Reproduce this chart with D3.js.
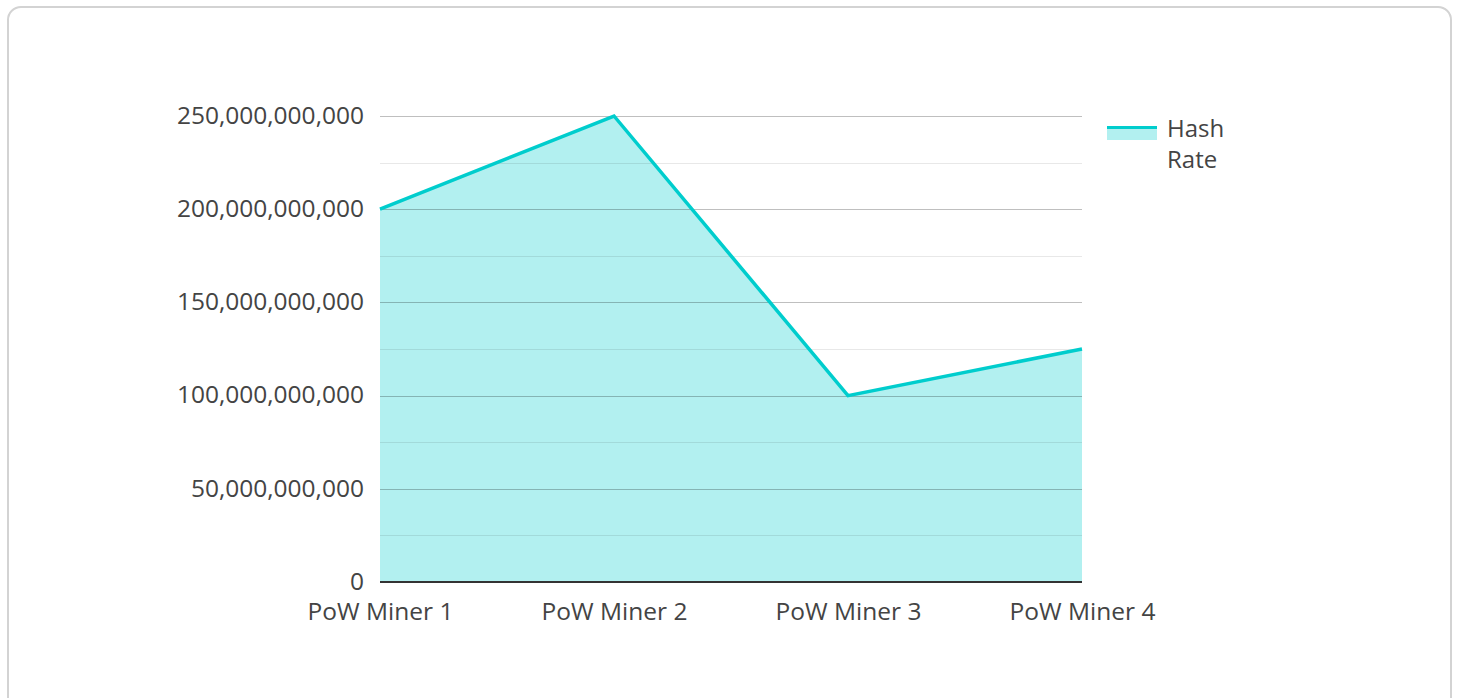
<!DOCTYPE html>
<html>
<head>
<meta charset="utf-8">
<script src="https://cdn.jsdelivr.net/npm/d3@7"></script>
<style>
  body { margin: 0; background: #fff; font-family: "Open Sans", "Noto Sans", sans-serif; }
  .card { position: absolute; left: 7px; top: 6px; width: 1445px; height: 720px;
          border: 2px solid #d3d3d3; border-radius: 14px; box-sizing: border-box; }
  svg { position: absolute; left: 0; top: 0; }
  .tick text { fill: #444; font-size: 24.5px; font-family: "Open Sans", "Noto Sans", sans-serif; }
</style>
</head>
<body>
<div class="card"></div>
<svg id="chart" width="1458" height="698"></svg>
<script>
// data
const miners = ['PoW Miner 1', 'PoW Miner 2', 'PoW Miner 3', 'PoW Miner 4']
const hashRate = [200e9, 250e9, 100e9, 125e9]
const yTicks = [0, 50e9, 100e9, 150e9, 200e9, 250e9]
const minorTicks = [25e9, 75e9, 125e9, 175e9, 225e9]
const seriesName = ['Hash', 'Rate']

let margin = { top: 116, right: 376, bottom: 116, left: 380 }
let width = 1458
let height = 698
let lineColor = '#00cdcd'

let svg = d3.select('#chart')

let xScale = d3.scalePoint()
    .domain(miners)
    .range([margin.left, width - margin.right])

let yScale = d3.scaleLinear()
    .domain([0, 250e9])
    .range([height - margin.bottom, margin.top])

let data = miners.map((m, i) => ({ name: m, value: hashRate[i] }))

// area
let area = d3.area()
    .x(d => xScale(d.name))
    .y0(yScale(0))
    .y1(d => yScale(d.value))

svg.append('path')
    .datum(data)
    .attr('d', area)
    .attr('fill', 'rgba(0,205,205,0.3)')

// grid lines on top of the fill
svg.append('g')
    .selectAll('line')
    .data(minorTicks)
    .join('line')
    .attr('x1', margin.left)
    .attr('x2', width - margin.right)
    .attr('y1', d => Math.round(yScale(d)) + 0.5)
    .attr('y2', d => Math.round(yScale(d)) + 0.5)
    .attr('stroke', 'rgba(0,0,0,0.09)')

svg.append('g')
    .selectAll('line')
    .data(yTicks.slice(1))
    .join('line')
    .attr('x1', margin.left)
    .attr('x2', width - margin.right)
    .attr('y1', d => Math.round(yScale(d)) + 0.5)
    .attr('y2', d => Math.round(yScale(d)) + 0.5)
    .attr('stroke', 'rgba(0,0,0,0.25)')

// line
let line = d3.line()
    .x(d => xScale(d.name))
    .y(d => yScale(d.value))

svg.append('path')
    .datum(data)
    .attr('d', line)
    .attr('fill', 'none')
    .attr('stroke', lineColor)
    .attr('stroke-width', 3.5)
    .attr('stroke-linejoin', 'miter')

// axes
let yAxis = d3.axisLeft(yScale)
    .tickValues(yTicks)
    .tickFormat(d3.format(','))
    .tickSize(0)
    .tickPadding(16)

svg.append('g')
    .attr('transform', `translate(${margin.left},0)`)
    .call(yAxis)
    .call(g => g.select('.domain').remove())
    .selectAll('text').attr('dy', '0.3em')

let xAxis = d3.axisBottom(xScale)
    .tickSize(0)
    .tickPadding(20)

svg.append('g')
    .attr('transform', `translate(0,${height - margin.bottom})`)
    .call(xAxis)
    .call(g => g.select('.domain').remove())
    .selectAll('text').attr('dy', '0.75em')

svg.append('line')
    .attr('x1', margin.left)
    .attr('x2', width - margin.right)
    .attr('y1', yScale(0))
    .attr('y2', yScale(0))
    .attr('stroke', '#333')
    .attr('stroke-width', 2)

// legend
let legend = svg.append('g').attr('transform', 'translate(1107,126)')
legend.append('rect')
    .attr('x', 0).attr('y', 0).attr('width', 50).attr('height', 14)
    .attr('fill', 'rgba(0,205,205,0.3)')
legend.append('rect')
    .attr('x', 0).attr('y', 0).attr('width', 50).attr('height', 3)
    .attr('fill', lineColor)
legend.append('text')
    .attr('x', 60)
    .attr('y', 11)
    .attr('fill', '#444')
    .style('font-size', '24px')
    .selectAll('tspan')
    .data(seriesName)
    .join('tspan')
    .attr('x', 60)
    .attr('dy', (d, i) => i === 0 ? 0 : 31)
    .text(d => d)
</script>
</body>
</html>
